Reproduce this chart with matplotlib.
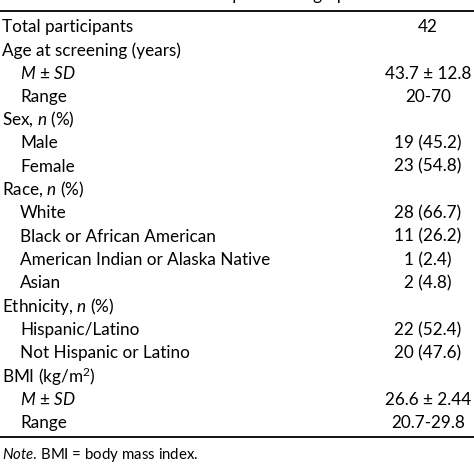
import matplotlib.pyplot as plt
from matplotlib.lines import Line2D

plt.rcParams['font.family'] = ['Lato', 'DejaVu Sans']
plt.rcParams['mathtext.fontset'] = 'custom'
plt.rcParams['mathtext.rm'] = 'Lato'
plt.rcParams['mathtext.it'] = 'Lato:italic'

# row labels, indent flags, values
labels = ["Total participants", "Age at screening (years)", "$M$ ± $SD$", "Range",
          "Sex, $n$ (%)", "Male", "Female", "Race, $n$ (%)", "White",
          "Black or African American", "American Indian or Alaska Native", "Asian",
          "Ethnicity, $n$ (%)", "Hispanic/Latino", "Not Hispanic or Latino",
          "BMI (kg/m$^2$)", "$M$ ± $SD$", "Range"]
indent = [0, 0, 1, 1, 0, 1, 1, 0, 1, 1, 1, 1, 0, 1, 1, 0, 1, 1]
values = ["42", "", "43.7 ± 12.8", "20-70", "", "19 (45.2)", "23 (54.8)", "",
          "28 (66.7)", "11 (26.2)", "1 (2.4)", "2 (4.8)", "", "22 (52.4)",
          "20 (47.6)", "", "26.6 ± 2.44", "20.7-29.8"]

W, H = 474, 466
fig = plt.figure(figsize=(W / 100, H / 100), dpi=100)
ax = fig.add_axes([0, 0, 1, 1])
ax.set_xlim(0, W)
ax.set_ylim(H, 0)
ax.axis('off')

fs = 12.3
ax.text(120, -5, "Table 1  Participant demographics", fontsize=fs, va='center')

for yy in (11, 437):
    fig.add_artist(Line2D([0, 1], [1 - yy / H, 1 - yy / H], color='black', lw=1.3))

y0, dy = 27, 23.3
for i, (lab, ind, val) in enumerate(zip(labels, indent, values)):
    y = y0 + i * dy
    ax.text(2 + ind * 18, y, lab, fontsize=fs, va='center')
    if val:
        ax.text(428, y, val, fontsize=fs, va='center', ha='center')

ax.text(2, 455, "$Note$. BMI = body mass index.", fontsize=fs - 1.5, va='center')

fig.savefig('out.png', dpi=100)
